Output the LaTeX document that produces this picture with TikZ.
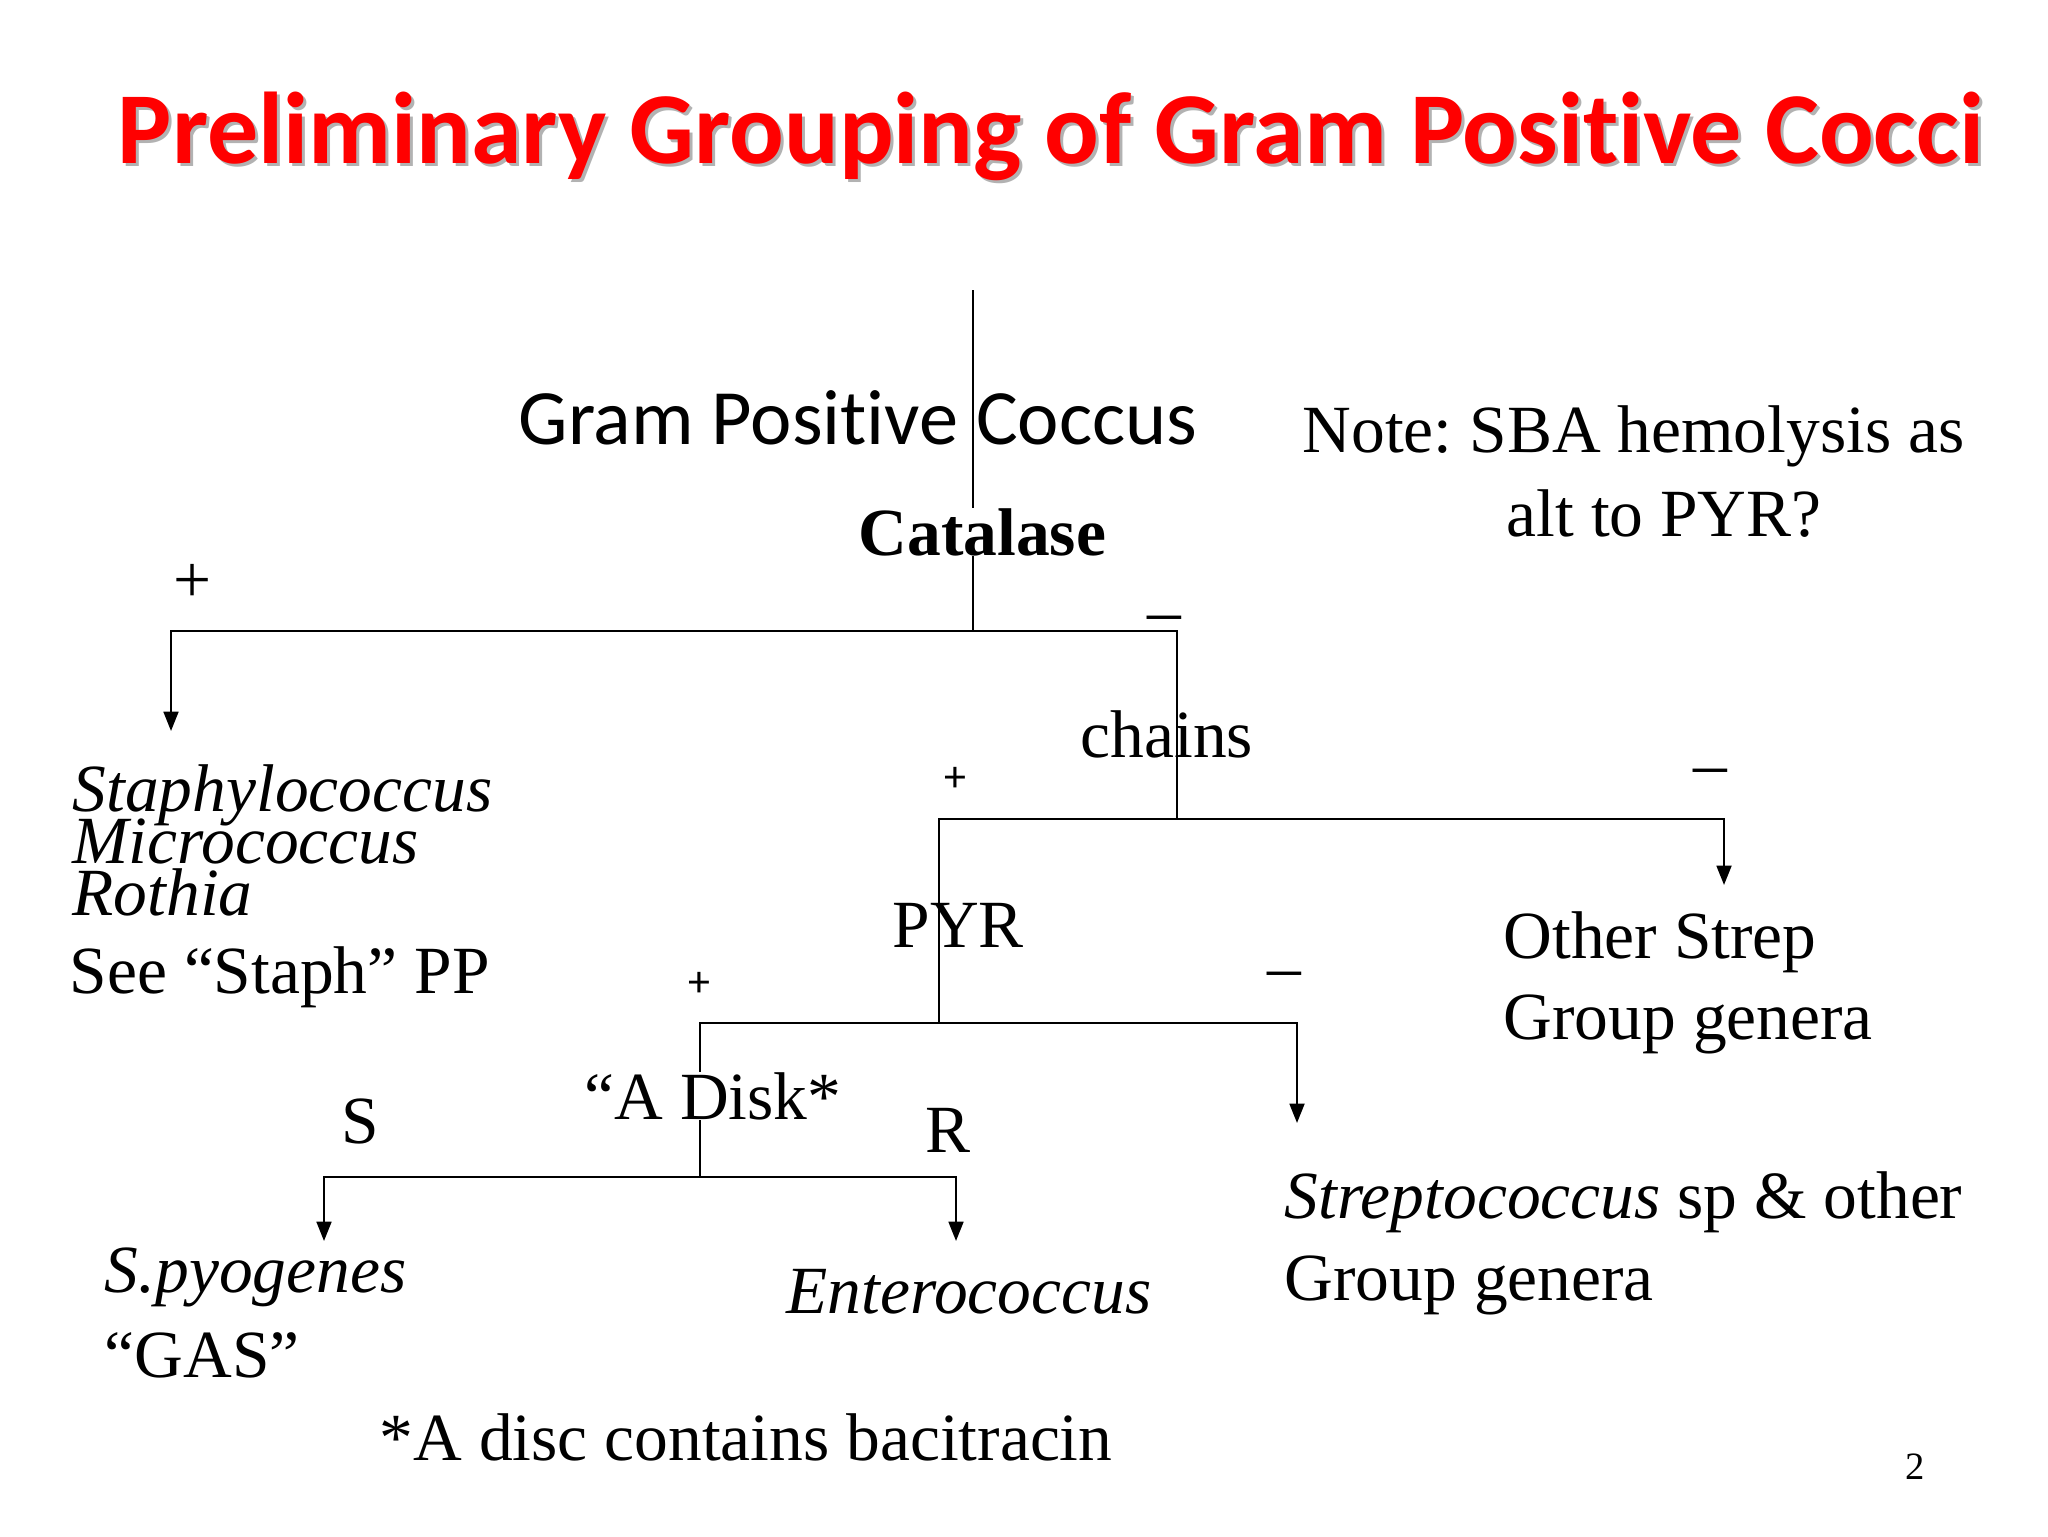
\documentclass[tikz,border=0pt]{standalone}
\usepackage{fontspec}
\setmainfont{Liberation Serif}
\newfontfamily\calibrifont[Ligatures=NoCommon]{Carlito}
\usepackage{tikz}
\usetikzlibrary{arrows.meta,backgrounds}
\definecolor{titleRed}{HTML}{FF0000}
\newcommand\tightlines{\lineskiplimit=-100pt\relax}
\frenchspacing

\begin{document}
\begin{tikzpicture}[x=0.1mm,y=-0.1mm,
  body/.style={inner sep=0pt,anchor=base west,font=\fontsize{19.2}{23.5}\selectfont},
  block/.style={inner sep=0pt,anchor=north west,align=left},
  sign/.style={inner sep=0pt,anchor=base,font=\fontsize{19.2}{23.5}\selectfont},
  smallsign/.style={inner sep=0pt,anchor=base,font=\calibrifont\fontsize{12.5}{14}\selectfont},
  titletext/.style={anchor=base,inner sep=0pt,font=\calibrifont\bfseries\fontsize{29}{34}\selectfont},
  link/.style={line width=0.7pt},
  arr/.style={link,-{Triangle[length=5.5pt,width=4.2pt]}}]
\useasboundingbox (0,0) rectangle (2048,1536);
% title with its shadow
\node[titletext,text=black!30] (titleshadow) at (1054,166) {Preliminary Grouping of Gram Posit\kern0pt ive Cocci};
\node[titletext,text=titleRed] (title) at (1051,163) {Preliminary Grouping of Gram Posit\kern0pt ive Cocci};
% tests and results
\node[inner sep=0pt,anchor=base west,font=\calibrifont\fontsize{22.3}{26}\selectfont] (gpc) at (518,444) {Gram Posit\kern0pt ive Coccus};
\node[body,font=\fontsize{19.2}{23.5}\selectfont\bfseries,fill=white] (catalase) at (858,555) {Catalase};
\node[block,font=\fontsize{19.2}{23.9}\selectfont] (note) at (1302,405) {Note: SBA hemolysis as\\\hspace*{20.4mm}alt to PYR?};
\node[block,font=\fontsize{19.2}{14.8}\selectfont\tightlines\itshape] (staph) at (72,764) {Staphylococcus\\Micrococcus\\Rothia};
\node[body] (seestaph) at (69,993) {See “Staph” PP};
\node[body] (chains) at (1080,757) {chains};
\node[block,font=\fontsize{19.2}{23}\selectfont] (otherstrep) at (1503,911) {Other Strep\\Group genera};
\node[body] (pyr) at (892,947) {PYR};
\node[block,font=\fontsize{19.2}{23.3}\selectfont] (strepsp) at (1284,1171) {\textit{Streptococcus} sp \& other\\Group genera};
\node[body,fill=white] (adisk) at (584,1119) {“A Disk*};
\node[sign] (sens) at (360,1143) {S};
\node[sign] (res) at (948,1152) {R};
\node[block,font=\fontsize{19.2}{24.2}\selectfont] (pyogenes) at (104,1247) {\textit{S.pyogenes}\\“GAS”};
\node[body,font=\fontsize{19.2}{23.5}\selectfont\itshape] (entero) at (786,1313) {Enterococcus};
\node[body] (footnote) at (379,1460) {*A disc contains bacitracin};
\node[inner sep=0pt,font=\fontsize{11}{13}\selectfont] (pagenum) at (1915,1467) {2};
% + and - signs
\node[sign] (catpos) at (193,602) {+};
\node[sign] (catneg) at (1164,633) {–};
\node[smallsign] (chainpos) at (955,791) {+};
\node[sign] (chainneg) at (1710,786) {–};
\node[smallsign] (pyrpos) at (699,996) {+};
\node[sign] (pyrneg) at (1284,989) {–};
% branch points and arrow ends
\coordinate (top) at (973,290);
\coordinate (j1) at (973,631);
\coordinate (j2) at (1177,819);
\coordinate (j3) at (939,1023);
\coordinate (j4) at (700,1177);
\coordinate (staphtip) at (171,731);
\coordinate (othertip) at (1724,885);
\coordinate (streptip) at (1297,1123);
\coordinate (pyotip) at (324,1241);
\coordinate (enterotip) at (956,1241);
\begin{scope}[on background layer]
\fill[white] (0,0) rectangle (2048,1536);
\draw[link] (top) -- (j1);
\draw[arr] (j1) -| (staphtip);
\draw[link] (j1) -| (j2);
\draw[arr] (j2) -| (othertip);
\draw[link] (j2) -| (j3);
\draw[arr] (j3) -| (streptip);
\draw[link] (j3) -| (j4);
\draw[arr] (j4) -| (pyotip);
\draw[arr] (j4) -| (enterotip);
\end{scope}
\end{tikzpicture}
\end{document}
